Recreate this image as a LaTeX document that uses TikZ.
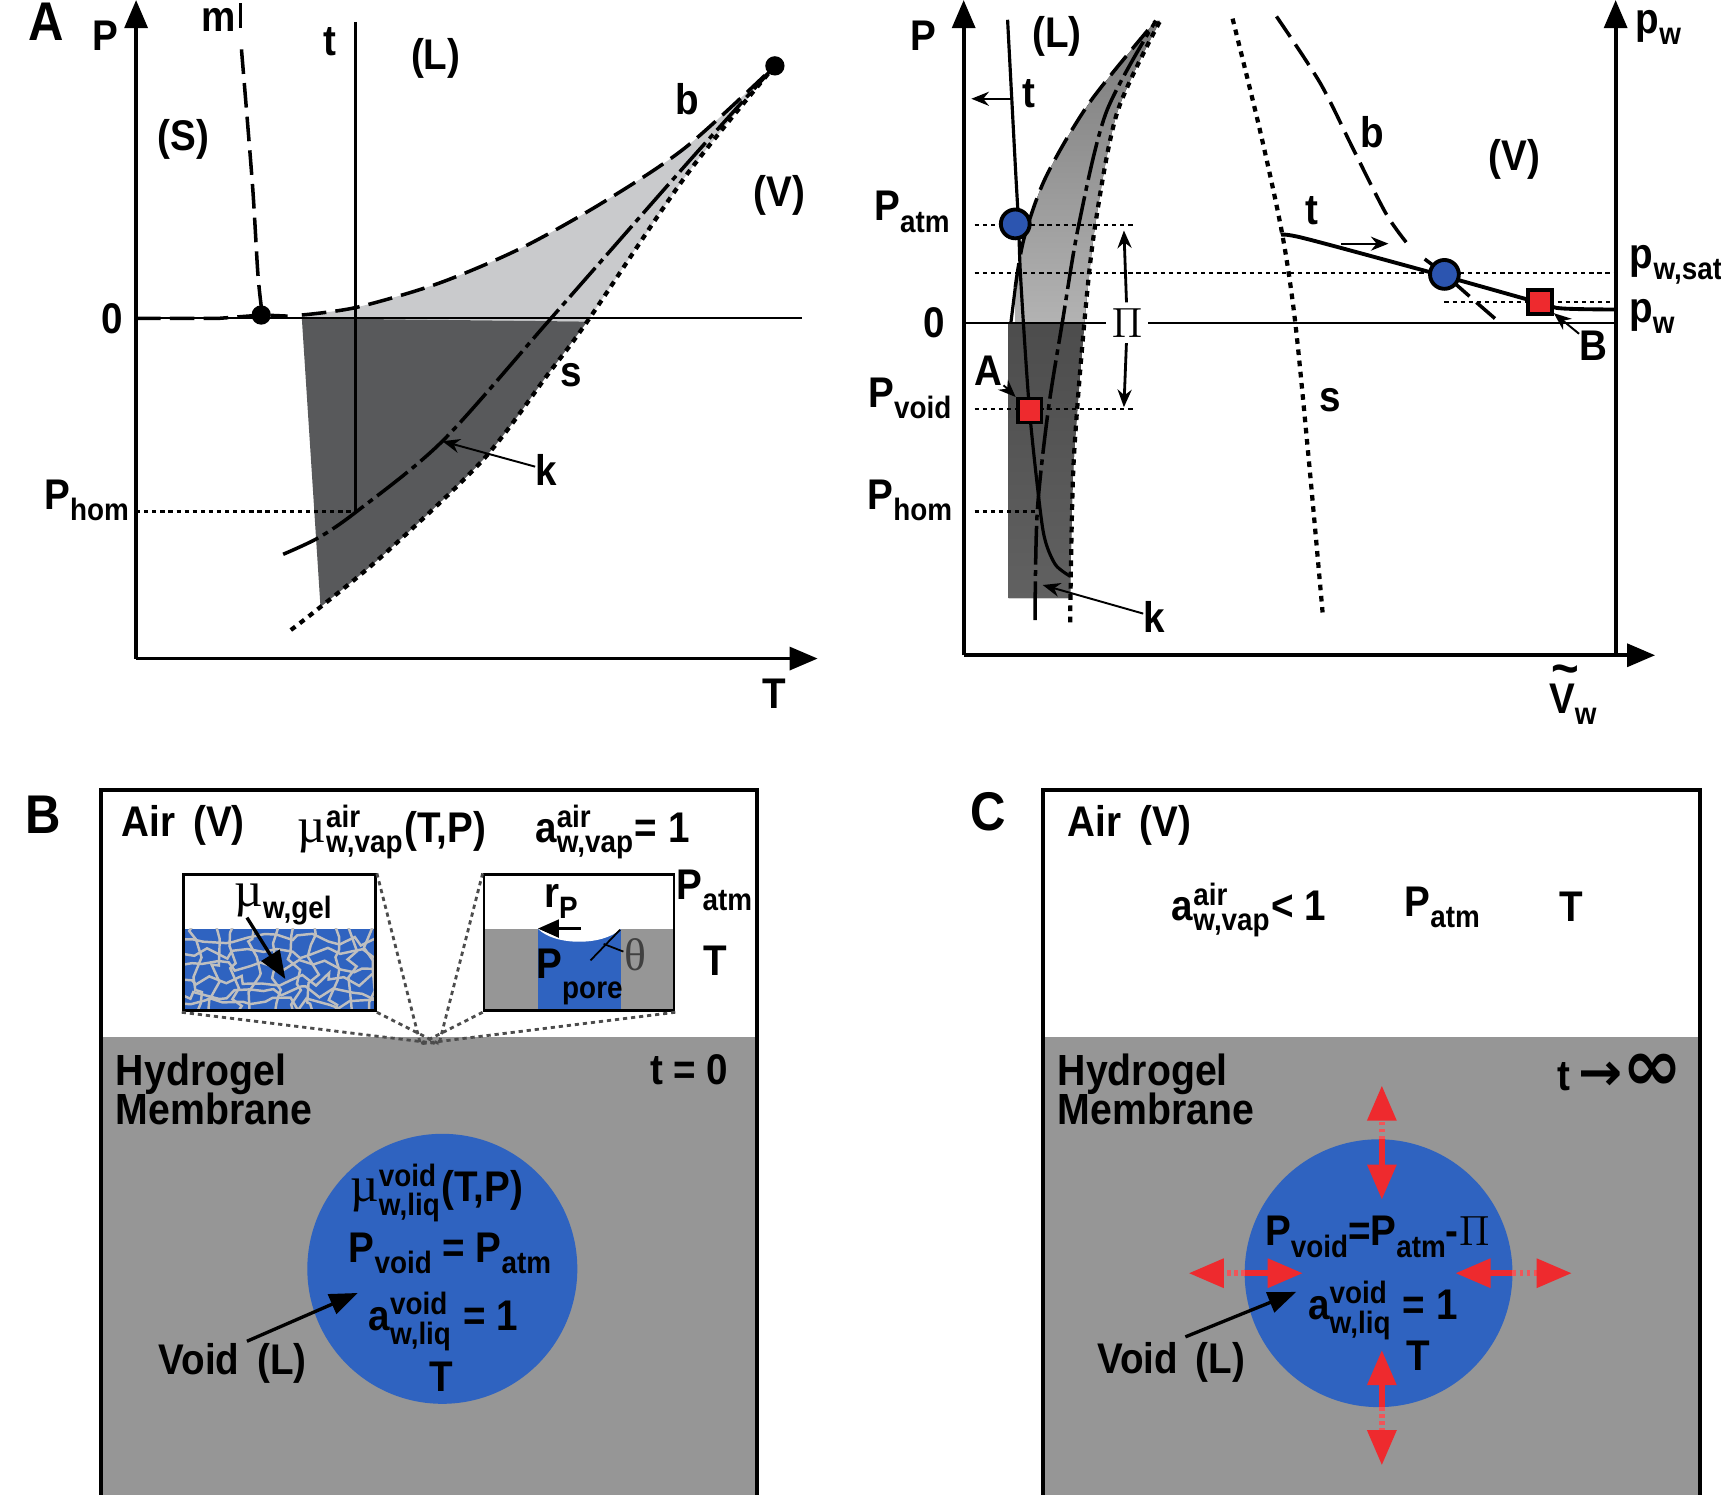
\documentclass[tikz,border=0pt]{standalone}
\usepackage{amsmath}
\usepackage{fontspec}
\setmainfont[FakeStretch=0.9]{Liberation Sans}
\newfontfamily\symb{Liberation Serif}
\newfontfamily\arrowfont{DejaVu Sans}
\usetikzlibrary{arrows.meta,decorations.pathmorphing}

\definecolor{darkfill}{HTML}{58595B}
\definecolor{lightfill}{HTML}{C9CACC}
\definecolor{gelgray}{HTML}{969696}
\definecolor{waterblue}{HTML}{2F63C0}
\definecolor{dotblue}{HTML}{2C55B0}
\definecolor{flowred}{HTML}{EE2A2E}

\newcommand{\sbs}[1]{\raisebox{-0.5ex}{\fontsize{8.8}{10}\selectfont #1}}
\newcommand{\smalltxt}[1]{\text{\fontsize{8.8}{10}\selectfont\bfseries #1}}
\newcommand{\actv}[3]{$\text{#1}^{\smalltxt{#2}}_{\smalltxt{#3}}$}
\newcommand{\chem}{{\symb\mdseries\fontsize{14}{14}\selectfont\textmu}}

\begin{document}
\begin{tikzpicture} [x=0.010976cm, y=-0.010976cm, >={Stealth[length=5pt,width=4pt]},
  every node/.style={inner sep=0pt, font=\fontsize{12.2}{14}\selectfont\bfseries}]

\tikzstyle{axis}=[line width=1.1pt, -{Triangle[length=8pt,width=6.5pt]}]
\tikzstyle{zeroline}=[line width=0.55pt]
\tikzstyle{tline}=[line width=0.9pt]
\tikzstyle{bline}=[line width=1pt, dash pattern=on 7pt off 2.6pt]
\tikzstyle{kline}=[line width=1pt, dash pattern=on 11pt off 1.6pt on 1.6pt off 1.6pt]
\tikzstyle{sline}=[line width=1.2pt, dash pattern=on 1.6pt off 1.6pt]
\tikzstyle{hint}=[line width=0.6pt, dash pattern=on 1.2pt off 1.1pt]
\tikzstyle{pointer}=[->, line width=0.55pt]
\tikzstyle{bigpointer}=[line width=0.95pt, -{Triangle[length=8pt,width=6pt]}]
\tikzstyle{letter}=[font=\fontsize{15.5}{18}\selectfont\bfseries]
\tikzstyle{statedot}=[circle, draw=black, line width=1.1pt, fill=dotblue, minimum size=8.2pt]
\tikzstyle{statebox}=[rectangle, draw=black, line width=1.1pt, fill=flowred, minimum size=6.8pt]
\tikzstyle{framed}=[line width=1.1pt]
\tikzstyle{insetbox}=[rectangle, draw=black, line width=0.8pt, minimum height=38.7pt]
\tikzstyle{funnel}=[line width=0.8pt, black!70, dash pattern=on 1.2pt off 1.1pt]
\tikzstyle{netline}=[line width=0.7pt, black!25, decorate, decoration={random steps,segment length=3.5pt,amplitude=2pt}]
\tikzstyle{flow}=[flowred, line width=1.7pt, -{Triangle[length=10pt,width=8pt]}]
\tikzstyle{flowdots}=[flowred!80!white, line width=1.7pt, dash pattern=on 1pt off 1pt]
\tikzstyle{gellabel}=[align=left, anchor=north west, font=\fontsize{12.4}{14}\selectfont\bfseries]

\useasboundingbox (0,0) rectangle (1568,1362);

% diagram A
\fill [lightfill] (275,290) -- plot [smooth] coordinates {(275,287) (325,280) (400,258) (475,226) (550,184) (625,134) (706,60)}
  -- plot [smooth] coordinates {(706,60) (625,160) (535,293)} -- cycle;
\fill [darkfill] (275,290) -- plot [smooth] coordinates {(292,553) (350,505) (440,419) (500,340) (535,293)} -- cycle;
\draw [zeroline] (124,290) -- (731,290);
\draw [tline] (324,20) -- (324,466);
\draw [bline] (219,3) -- (219,30);
\draw [bline] plot [smooth] coordinates {(220,45) (230,168) (235,250) (239,287)};
\draw [bline] (124,290) -- (200,290) -- (239,287) -- (262,288);
\draw [bline] plot [smooth] coordinates {(275,287) (325,280) (400,258) (475,226) (550,184) (625,134) (706,60)};
\draw [kline] plot [smooth] coordinates {(258,505) (290,490) (325,466) (403,402) (502,290) (625,150) (706,60)};
\draw [sline] plot [smooth] coordinates {(265,574) (292,553) (350,505) (440,419) (500,340) (535,293) (625,160) (706,60)};
\draw [hint] (124,466) -- (324,466);
\node [circle, fill=black, minimum size=5.5pt] (critical) at (706,60) {};
\node [circle, fill=black, minimum size=5.5pt] (triple) at (238,287) {};
\coordinate (ycornerA) at (124,600);
\coordinate (ytipA) at (124,0);
\coordinate (xtipA) at (745,600);
\draw [axis] (ycornerA) to (ytipA);
\draw [axis] (ycornerA) to (xtipA);
\node [letter] (labelA) at (42,20) {A};
\node (pA) at (96,33) {P};
\node (mA) at (199,18) {m};
\node (tA) at (301,38) {t};
\node (liqA) at (397,53) {(L)};
\node (solA) at (167,127) {(S)};
\node (bA) at (626,90) {b};
\node (vapA) at (710,178) {(V)};
\node (zeroA) at (102,290) {0};
\node (sA) at (520,342) {s};
\node (kA) at (498,428) {k};
\node (xA) at (705,632) {T};
\node (homA) at (79,456) {P\sbs{hom}};
\coordinate (kspotA) at (403,402);
\draw [pointer] (kA) to (kspotA);

% diagram on the right
\fill [top color=black!52, bottom color=black!30] (925,294) -- plot [smooth] coordinates {(925,262) (933,217) (953,161) (993,93) (1053,19)}
  -- plot [smooth] coordinates {(1057,19) (1018,102) (998,204) (988,294)} -- cycle;
\fill [top color=black!70, bottom color=black!62] (919,294) -- (919,545) -- plot [smooth] coordinates {(975,545) (978,425) (988,294)} -- cycle;
\draw [zeroline] (878,294) -- (1472,294);
\draw [tline] (921,294) -- (925,262);
\draw [tline] plot [smooth] coordinates {(918,18) (925,150) (928,204) (930,255) (938,374) (948,467) (953,495) (962,515) (975,525)};
\draw [bline] plot [smooth] coordinates {(925,262) (933,217) (953,161) (993,93) (1053,19)};
\draw [kline] plot [smooth] coordinates {(943,565) (945,467) (955,374) (968,293) (983,204) (1008,102) (1053,19)};
\draw [sline] plot [smooth] coordinates {(975,567) (978,425) (988,293) (998,204) (1018,102) (1057,19)};
\draw [sline] plot [smooth] coordinates {(1123,17) (1148,119) (1168,212) (1180,293) (1193,425) (1205,558)};
\draw [bline] plot [smooth] coordinates {(1163,15) (1203,76) (1233,136) (1263,195) (1283,223)};
\draw [bline] plot [smooth] coordinates {(1298,236) (1316,250) (1348,278) (1363,291)};
\draw [line width=1.1pt] plot [smooth] coordinates {(1167,214) (1188,217) (1303,248) (1403,276) (1423,281) (1472,282)};
\draw [hint] (888,205) -- (1033,205);
\draw [hint] (888,249) -- (1472,249);
\draw [hint] (888,373) -- (1035,373);
\draw [hint] (888,466) -- (948,466);
\draw [hint] (1316,275) -- (1472,275);
\coordinate (ycornerV) at (878,597);
\coordinate (ytipV) at (878,0);
\coordinate (xtipV) at (1508,597);
\coordinate (rcornerV) at (1472,597);
\coordinate (rtipV) at (1472,0);
\draw [axis] (ycornerV) to (ytipV);
\draw [axis] (ycornerV) to (xtipV);
\draw [axis] (rcornerV) to (rtipV);
\node [statedot] (dotL) at (925,204) {};
\node [statedot] (dotR) at (1316,250) {};
\node [statebox] (boxA) at (938,374) {};
\node [statebox] (boxB) at (1403,275) {};
\node [fill=white, inner sep=1.5pt, font=\fontsize{12.5}{13}\selectfont] (osm) at (1027,294) {$\Pi$};
\coordinate (osmtop) at (1024,210);
\coordinate (osmbot) at (1024,371);
\draw [pointer, line width=0.8pt] (osm) to (osmtop);
\draw [pointer, line width=0.8pt] (osm) to (osmbot);
\node (pV) at (841,33) {P};
\node (liqV) at (963,33) {(L)};
\node (tlV) at (937,85) {t};
\node (bV) at (1250,120) {b};
\node (vapV) at (1380,145) {(V)};
\node (trV) at (1195,192) {t};
\node (sV) at (1212,365) {s};
\node (kV) at (1052,562) {k};
\node (zeroV) at (851,294) {0};
\node (atmV) at (831,193) {P\sbs{atm}};
\node (voidV) at (829,363) {P\sbs{void}};
\node (homV) at (829,456) {P\sbs{hom}};
\node (aV) at (901,338) {A};
\node (bbV) at (1452,315) {B};
\node (pwtop) at (1511,25) {p\sbs{w}};
\node (pwsat) at (1527,241) {p\sbs{w,sat}};
\node (pwlow) at (1505,288) {p\sbs{w}};
\node (xV) at (1433,633) {\rlap{\raisebox{0.62em}{\hspace{0.06em}\fontsize{15}{15}\selectfont\textasciitilde}}V\sbs{w}};
\coordinate (tlstart) at (921,90);
\coordinate (tlend) at (885,90);
\coordinate (trstart) at (1222,222);
\coordinate (trend) at (1265,222);
\coordinate (kspotV) at (950,533);
\draw [pointer] (tlstart) to (tlend);
\draw [pointer] (trstart) to (trend);
\draw [pointer] (kV) to (kspotV);
\draw [pointer] (aV) to (boxA);
\draw [pointer] (bbV) to (boxB);

% membrane at t = 0
\fill [gelgray] (92,945) rectangle (690,1362);
\fill [waterblue] (403,1156) circle (123);
\draw [framed] (92,1362) -- (92,720) -- (690,720) -- (690,1362);
\fill [waterblue] (167,846) rectangle (342,921);
\begin{scope}
\clip (167,846) rectangle (342,921);
\pgfmathsetseed{11}
\foreach \h in {856,868,880,892,904,914}
  \draw [netline] (160,\h) -- (350,\h);
\foreach \w in {178,196,214,232,250,268,286,304,322,336}
  \draw [netline] (\w,840) -- (\w,926);
\end{scope}
\fill [gelgray] (441,846) rectangle (614,921);
\fill [waterblue] (490,846) rectangle (566,921);
\fill [white] (490,846) .. controls (505,862) and (550,862) .. (566,846) -- cycle;
\node [insetbox, minimum width=54.7pt] (gelbox) at (254.5,859) {};
\node [insetbox, minimum width=54pt] (porebox) at (527.5,859) {};
\coordinate (focusL) at (383,951);
\coordinate (focusR) at (400,951);
\draw [funnel] (gelbox.north east) to (focusL);
\draw [funnel] (gelbox.south west) to (focusR);
\draw [funnel] (gelbox.south east) to (focusR);
\draw [funnel] (porebox.north west) to (focusR);
\draw [funnel] (porebox.south east) to (focusL);
\draw [funnel] (porebox.south west) to (focusL);
\node [letter] (labelB) at (39,742) {B};
\node (airB) at (167,752) {Air\, (V)};
\node (muairB) at (357,758) {\chem\actv{}{air}{w,vap}(T,P)};
\node (actairB) at (558,758) {\actv{a}{air}{w,vap}= 1};
\node (mugel) at (258,824) {\chem\sbs{w,gel}};
\coordinate (gelspot) at (260,892);
\coordinate (gelstart) at (225,836);
\draw [bigpointer] (gelstart) to (gelspot);
\node (rp) at (511,821) {r\sbs{P}};
\coordinate (rpstart) at (529,846);
\coordinate (rpend) at (490,846);
\draw [bigpointer, -{Triangle[length=6pt,width=5pt]}] (rpstart) to (rpend);
\coordinate (anglefoot) at (538,875);
\coordinate (angletop) at (565,847);
\coordinate (angleside) at (568,867);
\coordinate (anglemid) at (550,860);
\draw [line width=0.5pt] (anglefoot) to (angletop);
\draw [line width=0.5pt] (anglemid) to (angleside);
\node [font=\fontsize{13}{13}\selectfont\symb\mdseries, black!75] (thetaB) at (579,870) {θ};
\node (ppore) at (528,890) {P\raisebox{-0.9ex}{\fontsize{8.8}{10}\selectfont pore}};
\node (patmB) at (651,811) {P\sbs{atm}};
\node (tempB) at (652,875) {T};
\node [gellabel] (gelB) at (105,960) {Hydrogel\\[-3pt]Membrane};
\node (timeB) at (628,975) {t = 0};
\node (muvoid) at (398,1087) {\chem\actv{}{void}{w,liq}(T,P)};
\node (pvoidB) at (410,1142) {P\sbs{void} = P\sbs{atm}};
\node (actvoidB) at (404,1204) {\actv{a}{void}{w,liq} = 1};
\node (tvoidB) at (402,1254) {T};
\node (voidB) at (212,1242) {Void\, (L)};
\coordinate (voidspotB) at (326,1178);
\coordinate (voidstartB) at (225,1222);
\draw [bigpointer] (voidstartB) to (voidspotB);

% membrane at long time
\fill [gelgray] (950,945) rectangle (1549,1362);
\fill [waterblue] (1256,1160) circle (122);
\draw [framed] (950,1362) -- (950,720) -- (1549,720) -- (1549,1362);
\node [letter] (labelC) at (900,740) {C};
\node (airC) at (1029,752) {Air\, (V)};
\node (actairC) at (1138,829) {\actv{a}{air}{w,vap}< 1};
\node (patmC) at (1314,827) {P\sbs{atm}};
\node (tempC) at (1432,826) {T};
\node [gellabel] (gelC) at (963,960) {Hydrogel\\[-3pt]Membrane};
\node (timeC) at (1476,977) {t{\arrowfont\fontsize{15}{15}\selectfont\,→{\fontsize{20.5}{20}\selectfont∞}}};
\node (pvoidC) at (1255,1127) {P\sbs{void}=P\sbs{atm}-{\fontsize{13}{13}\selectfont$\Pi$}};
\node (actvoidC) at (1260,1194) {\actv{a}{void}{w,liq} = 1};
\node (tvoidC) at (1292,1235) {T};
\node (voidC) at (1067,1241) {Void\, (L)};
\coordinate (voidspotC) at (1181,1177);
\coordinate (voidstartC) at (1080,1218);
\draw [bigpointer] (voidstartC) to (voidspotC);
\foreach \ox/\oy/\ex/\ey/\ix/\iy/\fx/\fy in {1259/989/1259/1038/1259/1093/1259/1019,
    1259/1335/1259/1282/1259/1230/1259/1304,
    1083/1160/1134/1160/1187/1160/1115/1160,
    1432/1160/1378/1160/1326/1160/1400/1160} {
  \coordinate (outer) at (\ox,\oy);
  \coordinate (edge) at (\ex,\ey);
  \coordinate (inner) at (\ix,\iy);
  \coordinate (base) at (\fx,\fy);
  \draw [flow] (edge) to (inner);
  \draw [flowdots] (edge) to (base);
  \draw [flow] (base) to (outer);
}
\end{tikzpicture}
\end{document}
